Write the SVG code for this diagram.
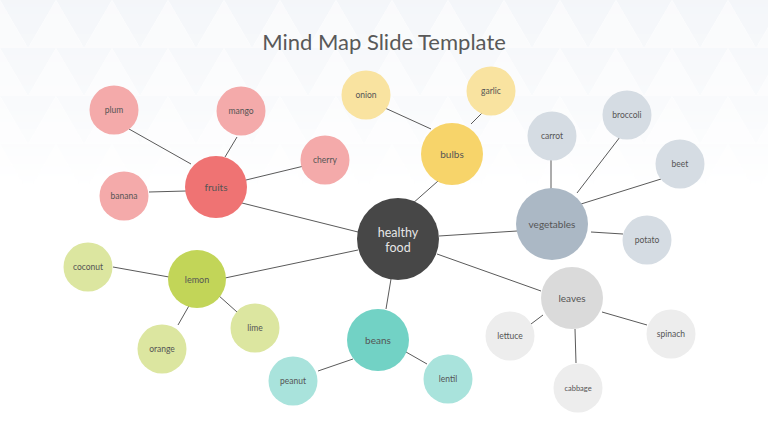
<svg xmlns="http://www.w3.org/2000/svg" width="768" height="432" viewBox="0 0 768 432">
<defs>
<pattern id="tri" x="0" y="0" width="56" height="48" patternUnits="userSpaceOnUse">
<polygon points="0,0 56,0 28,48" fill="#F1F4F8"/>
<polygon points="28,48 56,0 84,48" fill="#F8F9FB"/>
<polygon points="-28,48 0,0 28,48" fill="#F8F9FB"/>
</pattern>
<linearGradient id="fade" x1="0" y1="0" x2="0" y2="1">
<stop offset="0" stop-color="#fff" stop-opacity="0.8"/>
<stop offset="0.6" stop-color="#fff" stop-opacity="0.4"/>
<stop offset="1" stop-color="#fff" stop-opacity="0"/>
</linearGradient>
<mask id="m"><rect x="0" y="0" width="768" height="190" fill="url(#fade)"/></mask>
</defs>
<style>
text{font-family:Lato,"Open Sans","Liberation Sans",sans-serif;text-anchor:middle;fill:#555555}
.c{font-size:8.5px}
.h{font-size:10px}
.t{font-size:22px;fill:#595959}
.w{font-size:12.5px;fill:#E6E6E6}
#connectors line{stroke:#5A5A5A;stroke-width:1}
</style>
<rect width="768" height="432" fill="#FFFFFF"/>
<rect width="768" height="190" fill="url(#tri)" mask="url(#m)"/>
<text class="t" x="384" y="50">Mind Map Slide Template</text>
<g id="connectors">
<line x1="129" y1="129" x2="191" y2="164"/>
<line x1="237" y1="137" x2="225" y2="157"/>
<line x1="304" y1="166" x2="246" y2="180"/>
<line x1="149" y1="192" x2="186" y2="191"/>
<line x1="242" y1="203" x2="358" y2="232"/>
<line x1="385" y1="108" x2="431" y2="129"/>
<line x1="483" y1="112" x2="471" y2="124"/>
<line x1="438" y1="181" x2="412" y2="204"/>
<line x1="551" y1="160" x2="551" y2="189"/>
<line x1="620" y1="137" x2="577" y2="193"/>
<line x1="661" y1="179" x2="581" y2="204"/>
<line x1="439" y1="236" x2="517" y2="231"/>
<line x1="591" y1="232" x2="623" y2="234"/>
<line x1="437" y1="254" x2="541" y2="291"/>
<line x1="543" y1="315" x2="531" y2="324"/>
<line x1="602" y1="312" x2="647" y2="325"/>
<line x1="575" y1="329" x2="576" y2="363"/>
<line x1="391" y1="279" x2="386" y2="309"/>
<line x1="406" y1="352" x2="427" y2="364"/>
<line x1="353" y1="359" x2="318" y2="371"/>
<line x1="225" y1="278" x2="358" y2="250"/>
<line x1="113" y1="267" x2="169" y2="277"/>
<line x1="190" y1="304" x2="178" y2="325"/>
<line x1="218" y1="295" x2="237" y2="312"/>
</g>
<g id="healthy-food"><circle cx="398" cy="239" r="41" fill="#474747"/><text class="w" x="398" y="237">healthy</text><text class="w" x="398" y="252">food</text></g>
<g id="fruits"><circle cx="216" cy="187" r="31" fill="#EF7373"/><text class="h" x="216" y="191">fruits</text></g>
<g id="plum"><circle cx="114" cy="110" r="24.5" fill="#F4AAAA"/><text class="c" x="114" y="113">plum</text></g>
<g id="mango"><circle cx="241" cy="111" r="24.5" fill="#F4AAAA"/><text class="c" x="241" y="114">mango</text></g>
<g id="cherry"><circle cx="325" cy="160" r="24.5" fill="#F4AAAA"/><text class="c" x="325" y="163">cherry</text></g>
<g id="banana"><circle cx="124" cy="196" r="24.5" fill="#F4AAAA"/><text class="c" x="124" y="199">banana</text></g>
<g id="bulbs"><circle cx="452" cy="154" r="31" fill="#F7D46A"/><text class="h" x="452" y="158">bulbs</text></g>
<g id="onion"><circle cx="366" cy="95" r="24.5" fill="#F9E3A0"/><text class="c" x="366" y="98">onion</text></g>
<g id="garlic"><circle cx="491" cy="91" r="24.5" fill="#F9E3A0"/><text class="c" x="491" y="94">garlic</text></g>
<g id="vegetables"><circle cx="552" cy="224" r="36" fill="#ABB8C5"/><text class="h" x="552" y="228">vegetables</text></g>
<g id="carrot"><circle cx="552" cy="136" r="24.5" fill="#D5DCE3"/><text class="c" x="552" y="139">carrot</text></g>
<g id="broccoli"><circle cx="627" cy="115" r="24.5" fill="#D5DCE3"/><text class="c" x="627" y="118">broccoli</text></g>
<g id="beet"><circle cx="680" cy="164" r="24.5" fill="#D5DCE3"/><text class="c" x="680" y="167">beet</text></g>
<g id="potato"><circle cx="647" cy="240" r="24.5" fill="#D5DCE3"/><text class="c" x="647" y="243">potato</text></g>
<g id="leaves"><circle cx="572" cy="298" r="31" fill="#DADADA"/><text class="h" x="572" y="302">leaves</text></g>
<g id="lettuce"><circle cx="510" cy="336" r="24.5" fill="#EDEDED"/><text class="c" x="510" y="339">lettuce</text></g>
<g id="spinach"><circle cx="671" cy="334" r="24.5" fill="#EDEDED"/><text class="c" x="671" y="337">spinach</text></g>
<g id="cabbage"><circle cx="578" cy="388" r="24.5" fill="#EDEDED"/><text class="c" x="578" y="391" style="font-size:7.5px">cabbage</text></g>
<g id="beans"><circle cx="378" cy="340" r="31" fill="#72D2C5"/><text class="h" x="378" y="344">beans</text></g>
<g id="lentil"><circle cx="448" cy="379" r="24.5" fill="#A9E3DC"/><text class="c" x="448" y="382">lentil</text></g>
<g id="peanut"><circle cx="293" cy="381" r="24.5" fill="#A9E3DC"/><text class="c" x="293" y="384">peanut</text></g>
<g id="lemon"><circle cx="197" cy="279" r="29" fill="#C2D558"/><text class="c" x="197" y="283" style="font-size:9px">lemon</text></g>
<g id="coconut"><circle cx="88" cy="267" r="24.5" fill="#DCE6A0"/><text class="c" x="88" y="270">coconut</text></g>
<g id="orange"><circle cx="162" cy="349" r="24.5" fill="#DCE6A0"/><text class="c" x="162" y="352">orange</text></g>
<g id="lime"><circle cx="255" cy="328" r="24.5" fill="#DCE6A0"/><text class="c" x="255" y="331">lime</text></g>
</svg>
